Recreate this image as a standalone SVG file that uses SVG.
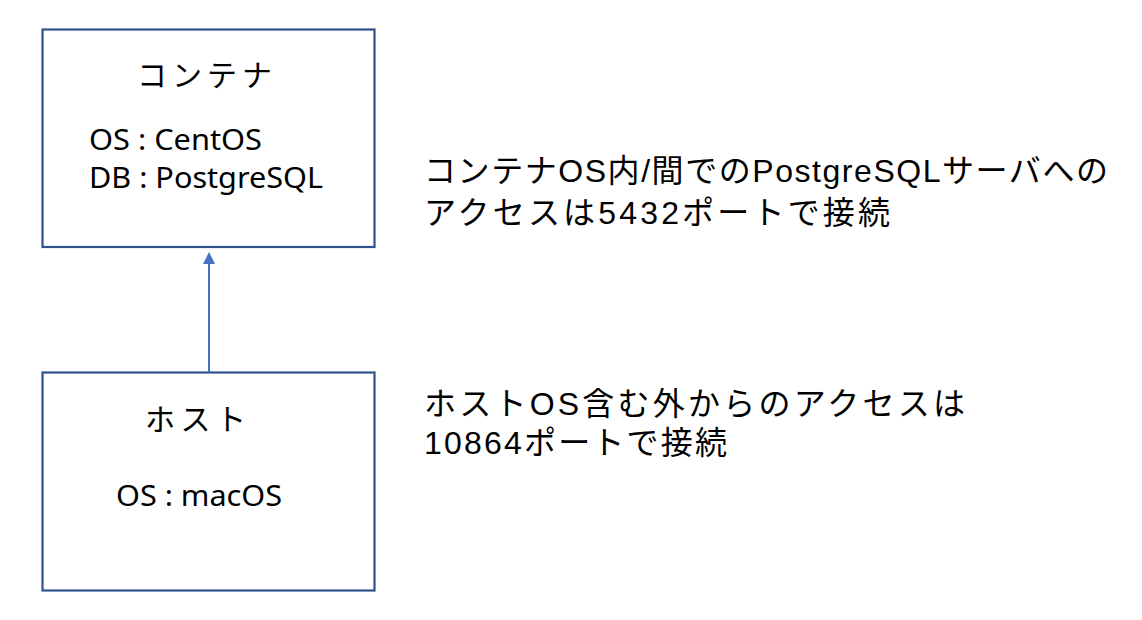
<svg xmlns="http://www.w3.org/2000/svg" width="1142" height="620" viewBox="0 0 1142 620">
<style>
.box{fill:#ffffff;stroke:#2F528F;stroke-width:2.2}
.t{font-family:"Noto Sans","Noto Sans CJK JP",sans-serif;fill:#000000}
.jp{font-size:30px}
.lat{font-size:29px}
.note{font-family:"Liberation Sans","Noto Sans CJK JP",sans-serif;font-size:32px}
.conn{stroke:#4472C4;stroke-width:2;fill:none}
</style>
<defs>
<marker id="ah" markerWidth="6" markerHeight="6" refX="5" refY="3" orient="auto" markerUnits="strokeWidth" viewBox="0 0 6 6">
<path d="M0,0 L6,3 L0,6 Z" fill="#4472C4"/>
</marker>
</defs>
<rect width="1142" height="620" fill="#ffffff"/>
<g id="container">
<rect class="box" x="42.5" y="29.5" width="332" height="217.5"/>
<text class="t jp" x="137" y="86" textLength="135" lengthAdjust="spacing">コンテナ</text>
<text class="t lat" x="89" y="150" textLength="173" lengthAdjust="spacingAndGlyphs">OS : CentOS</text>
<text class="t lat" x="89" y="188" textLength="234" lengthAdjust="spacingAndGlyphs">DB : PostgreSQL</text>
</g>
<g id="host">
<rect class="box" x="42.5" y="372.5" width="332" height="218"/>
<text class="t jp" x="145" y="430" textLength="101" lengthAdjust="spacing">ホスト</text>
<text class="t lat" x="116" y="506" textLength="166" lengthAdjust="spacingAndGlyphs">OS : macOS</text>
</g>
<g id="connectors">
<line class="conn" x1="209" y1="372" x2="209" y2="254" marker-end="url(#ah)"/>
</g>
<g id="note-container">
<text class="t note" x="424" y="182" textLength="684" lengthAdjust="spacing">コンテナOS内/間でのPostgreSQLサーバへの</text>
<text class="t note" x="424" y="224" textLength="466" lengthAdjust="spacing">アクセスは5432ポートで接続</text>
</g>
<g id="note-host">
<text class="t note" x="424" y="415" textLength="541" lengthAdjust="spacing">ホストOS含む外からのアクセスは</text>
<text class="t note" x="424" y="454" textLength="303" lengthAdjust="spacing">10864ポートで接続</text>
</g>
</svg>
